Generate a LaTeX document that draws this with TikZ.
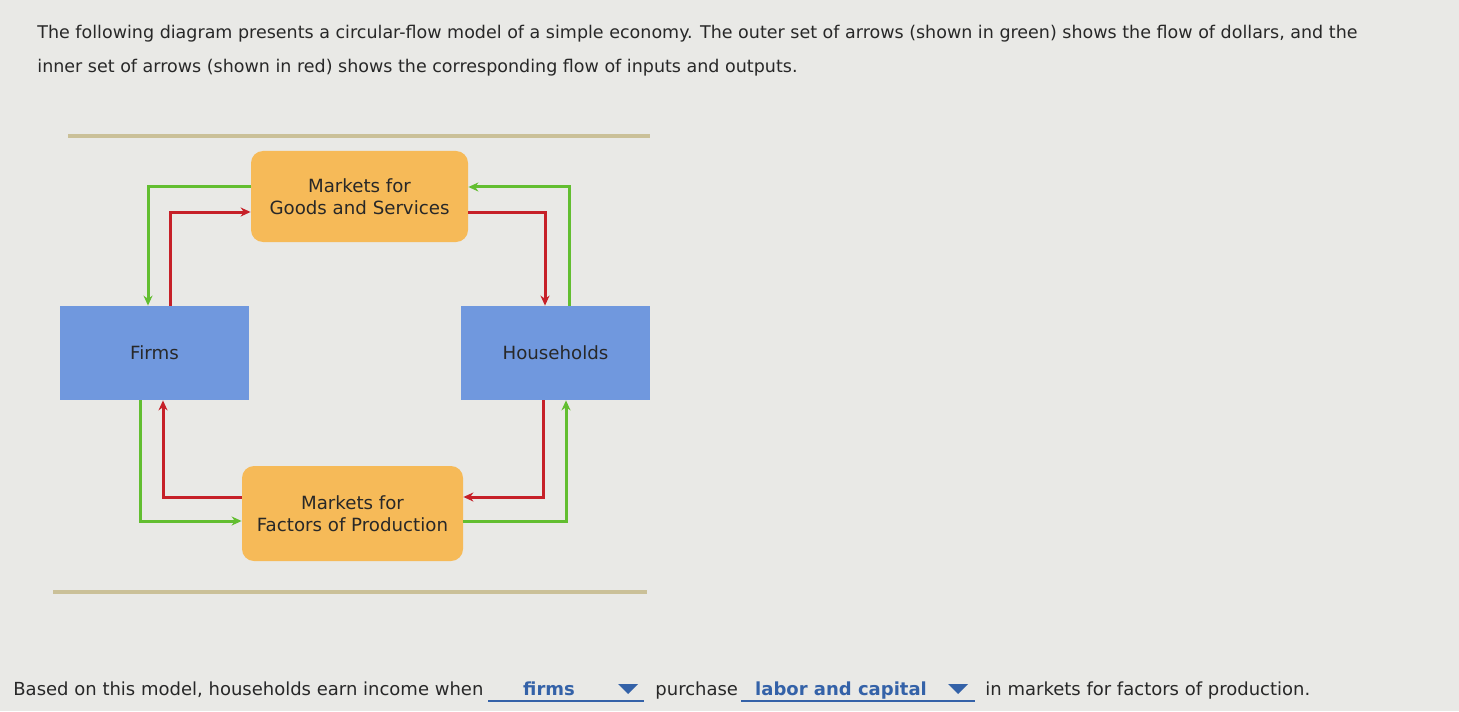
\documentclass[tikz,border=0pt]{standalone}
\usepackage{fontspec}
\setmainfont{DejaVu Sans}
\usepackage{tikz}
\usetikzlibrary{arrows.meta}

\definecolor{paper}{RGB}{233,233,230}
\definecolor{rule}{RGB}{202,192,152}
\definecolor{market}{RGB}{246,186,88}
\definecolor{sector}{RGB}{112,152,222}
\definecolor{money}{RGB}{98,190,48}
\definecolor{goods}{RGB}{198,32,40}
\definecolor{menu}{RGB}{52,98,168}
\definecolor{ink}{RGB}{40,40,40}

\begin{document}
\begin{tikzpicture}[x=0.5pt, y=-0.5pt, >={Stealth[length=5pt,width=4.5pt]},
  every node/.style={font=\fontsize{9.1}{11}\selectfont, text=ink},
  prose/.style={anchor=base west, inner sep=0pt},
  marketbox/.style={fill=market, rounded corners=6pt, align=center, inner sep=0pt},
  sectorbox/.style={fill=sector, inner sep=0pt, minimum width=94.5pt, minimum height=47pt},
  greenline/.style={money, line width=1.5pt, ->},
  redline/.style={goods, line width=1.5pt, ->},
  choice/.style={text=menu, font=\fontsize{9}{10}\selectfont\bfseries, anchor=base, inner sep=0pt}]
  \useasboundingbox [fill=paper] (0,0) rectangle (1459,711);

  % question text
  \node [prose, font=\fontsize{8.75}{10}\selectfont] (line1) at (37,39) {The following diagram presents a circular-flow model of a simple economy. The outer set of arrows (shown in green) shows the flow of dollars, and the};
  \node [prose, font=\fontsize{8.75}{10}\selectfont] (line2) at (37,73) {inner set of arrows (shown in red) shows the corresponding flow of inputs and outputs.};

  % rules
  \draw [rule, line width=2pt] (68,136) -- (650,136);
  \draw [rule, line width=2pt] (53,592) -- (647,592);

  % boxes
  \node [marketbox, minimum width=108.5pt, minimum height=45.5pt] (gs) at (359.5,196.5) {Markets for\\Goods and Services};
  \node [marketbox, minimum width=110.5pt, minimum height=47.5pt] (fp) at (352.5,513.5) {Markets for\\Factors of Production};
  \node [sectorbox] (firms) at (154.5,353) {Firms};
  \node [sectorbox] (hh) at (555.5,353) {Households};

  % dollars
  \draw [greenline] (gs.west |- 0,187) -| (148,0 |- firms.north);
  \draw [greenline] (569,0 |- hh.north) |- (gs.east |- 0,187);
  \draw [greenline] (140,0 |- firms.south) |- (fp.west |- 0,521);
  \draw [greenline] (fp.east |- 0,521) -| (566,0 |- hh.south);

  % inputs and outputs
  \draw [redline] (170,0 |- firms.north) |- (gs.west |- 0,212);
  \draw [redline] (gs.east |- 0,212) -| (545,0 |- hh.north);
  \draw [redline] (543,0 |- hh.south) |- (fp.east |- 0,497);
  \draw [redline] (fp.west |- 0,497) -| (163,0 |- firms.south);

  % answer line
  \node [prose, font=\fontsize{9}{10}\selectfont] (ask) at (13,695) {Based on this model, households earn income when};
  \node [choice] (who) at (549,695) {firms};
  \draw [menu, line width=1pt] (488,701) -- (644,701);
  \fill [menu] (618,684) -- (638,684) -- (628,694) -- cycle;
  \node [prose, font=\fontsize{9}{10}\selectfont] (verb) at (655,695) {purchase};
  \node [choice] (what) at (841,695) {labor and capital};
  \draw [menu, line width=1pt] (741,701) -- (975,701);
  \fill [menu] (948,684) -- (968,684) -- (958,694) -- cycle;
  \node [prose, font=\fontsize{9}{10}\selectfont] (rest) at (985,695) {in markets for factors of production.};
\end{tikzpicture}
\end{document}
